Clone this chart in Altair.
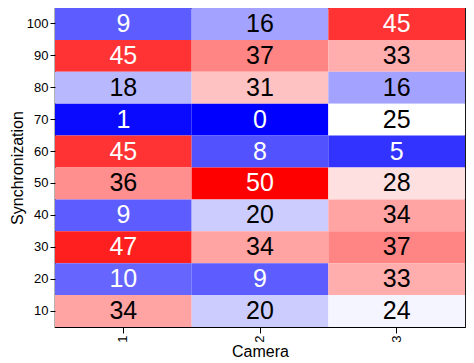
import altair as alt
import pandas as pd

cameras = ["1", "2", "3"]
sync_levels = [100, 90, 80, 70, 60, 50, 40, 30, 20, 10]
cam1 = [9, 45, 18, 1, 45, 36, 9, 47, 10, 34]
cam2 = [16, 37, 31, 0, 8, 50, 20, 34, 9, 20]
cam3 = [45, 33, 16, 25, 5, 28, 34, 37, 33, 24]

rows = []
for cam, vals in zip(cameras, [cam1, cam2, cam3]):
    for s, v in zip(sync_levels, vals):
        rows.append({"Camera": cam, "Synchronization": str(s), "value": v,
                     "light": "w" if (v <= 12 or v >= 40) else "k"})
df = pd.DataFrame(rows)

FONT = "Liberation Sans"
x = alt.X("Camera:O", sort=cameras, title="Camera",
          scale=alt.Scale(paddingInner=0, paddingOuter=0),
          axis=alt.Axis(labelAngle=270, labelBaseline="middle", labelAlign="right",
                        labelPadding=2, titlePadding=1, titleFontSize=16, labelFontSize=13,
                        tickSize=6))
y = alt.Y("Synchronization:O", sort=[str(s) for s in sync_levels], title="Synchronization",
          scale=alt.Scale(paddingInner=0, paddingOuter=0),
          axis=alt.Axis(labelPadding=2, titlePadding=1, titleFontSize=16, labelFontSize=13,
                        tickSize=5))

rect = alt.Chart(df).mark_rect(stroke=None).encode(
    x=x, y=y,
    color=alt.Color("value:Q", legend=None,
                    scale=alt.Scale(domain=[0, 25, 50],
                                    range=["#0000ff", "#ffffff", "#ff0000"],
                                    interpolate="rgb")),
)
text = alt.Chart(df).mark_text(fontSize=25, font=FONT, baseline="middle").encode(
    x=x, y=y,
    text=alt.Text("value:Q"),
    color=alt.Color("light:N", legend=None,
                    scale=alt.Scale(domain=["w", "k"], range=["white", "black"])),
)

chart = (rect + text).properties(
    width=410, height=319,
    padding={"left": 47, "top": 0, "right": 1, "bottom": 36},
    autosize=alt.AutoSizeParams(type="none"),
).configure_view(stroke="black", strokeWidth=1.2).configure_axis(
    labelColor="black", titleColor="black",
    tickColor="black", domain=False, titleFontWeight="normal", labelFont=FONT,
    titleFont=FONT, grid=False,
)

chart.save("out.html", embed_options={"renderer": "svg", "actions": False})
